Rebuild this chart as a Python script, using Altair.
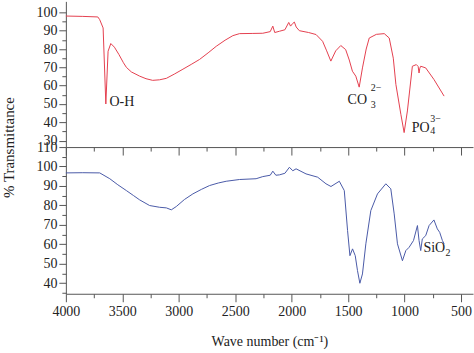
import altair as alt
import pandas as pd

# ---------------- data ----------------
red_wn = [4000, 3850, 3717, 3700, 3670, 3646, 3626, 3602, 3570, 3530, 3490, 3464, 3420, 3346,
          3290, 3231, 3170, 3110, 3040, 2963, 2890, 2816, 2740, 2668, 2590, 2521, 2462, 2350,
          2256, 2190, 2167, 2150, 2108, 2060, 2026, 2010, 1990, 1976, 1960, 1932, 1850, 1784,
          1726, 1690, 1653, 1610, 1565, 1522, 1490, 1462, 1432, 1402, 1373, 1340, 1313, 1250,
          1180, 1136, 1100, 1077, 1033, 1004, 975, 931, 896, 880, 872, 865, 857, 813, 740, 650]
red_t = [98.0, 97.8, 97.5, 96.0, 91.5, 50.0, 78.8, 83.0, 81.0, 77.0, 72.5, 70.0, 67.5, 65.2,
         63.8, 62.9, 63.2, 64.0, 66.3, 69.0, 71.6, 74.3, 77.9, 81.5, 84.8, 87.3, 88.4, 88.5,
         88.6, 89.5, 92.5, 89.0, 89.7, 90.5, 94.5, 92.5, 94.0, 94.7, 92.0, 90.0, 89.0, 87.9,
         84.2, 79.0, 73.4, 79.0, 81.9, 79.7, 74.0, 67.9, 65.2, 59.2, 69.7, 80.0, 86.0, 88.0,
         88.4, 86.0, 75.0, 60.7, 44.4, 34.4, 46.2, 70.6, 71.5, 70.5, 66.9, 69.5, 70.6, 69.7,
         63.4, 54.3]

blue_wn = [4000, 3850, 3700, 3611, 3540, 3464, 3400, 3346, 3258, 3169, 3110, 3066, 3022, 2950,
           2875, 2800, 2727, 2650, 2580, 2462, 2315, 2256, 2190, 2167, 2140, 2108, 2060, 2020,
           1990, 1961, 1873, 1770, 1696, 1652, 1578, 1534, 1505, 1484, 1461, 1437, 1417, 1396,
           1373, 1343, 1299, 1240, 1166, 1122, 1092, 1063, 1019, 989, 960, 921, 886, 872, 857,
           843, 813, 783, 740, 710, 689, 665, 650]
blue_t = [96.7, 96.8, 96.7, 93.7, 90.6, 87.6, 85.0, 82.8, 79.9, 79.0, 78.7, 77.7, 79.4, 83.0,
          85.9, 88.2, 90.2, 91.5, 92.4, 93.3, 93.7, 94.8, 95.5, 97.6, 95.5, 95.7, 96.5, 99.6,
          97.8, 98.8, 96.2, 94.5, 91.1, 89.7, 92.4, 87.6, 67.0, 54.1, 57.6, 54.1, 46.4, 39.9,
          44.7, 60.2, 77.3, 85.9, 91.1, 88.5, 75.6, 60.2, 51.5, 56.7, 58.4, 61.9, 69.6, 61.9,
          56.7, 62.7, 64.4, 69.6, 72.5, 67.9, 66.1, 61.9, 60.2]

x_ticks = list(range(4000, 499, -250))
top_y_ticks = list(range(30, 101, 5))
bot_y_ticks = list(range(35, 111, 5))

# annotation pieces (main text, subscripts, superscripts)
top_main_txt = ["O-H", "CO", "PO"]
top_main_x = [3614, 1505, 936]
top_main_y = [51.1, 52.2, 37.1]
top_sub_txt = ["3", "4"]
top_sub_x = [1300, 772]
top_sub_y = [49.5, 35.0]
top_sup_txt = ["2\u2212", "3\u2212"]
top_sup_x = [1300, 772]
top_sup_y = [58.5, 41.8]

bot_main_txt = ["SiO"]
bot_main_x = [833]
bot_main_y = [58.1]
bot_sub_txt = ["2"]
bot_sub_x = [638]
bot_sub_y = [55.7]

FONT = "Liberation Serif"
X_DOMAIN = [394, 4000]
AX = "#555555"
TXT = "#222222"

red_df = pd.DataFrame({"wn": red_wn, "t": red_t})
blue_df = pd.DataFrame({"wn": blue_wn, "t": blue_t})


def x_axis(labels, title):
    kw = dict(values=x_ticks, labels=labels, grid=False, format="d",
              labelExpr="datum.value % 500 === 0 ? datum.label : ''",
              tickSize={"condition": {"test": "datum.value % 500 === 0", "value": 8}, "value": 4},
              domainColor=AX, tickColor=AX, labelFont=FONT, labelFontSize=14,
              labelColor=TXT, labelPadding=3, labelFlush=False, labelOverlap=False,
              titleFont=FONT, titleFontSize=14, titleFontWeight="normal", titleColor=TXT,
              titlePadding=16)
    kw["title"] = title
    return alt.Axis(**kw)


def y_axis(ticks, title=None, **extra):
    kw = dict(values=ticks, grid=False,
              labelExpr="datum.value % 10 === 0 ? datum.label : ''",
              tickSize={"condition": {"test": "datum.value % 10 === 0", "value": 7}, "value": 4},
              domainColor=AX, tickColor=AX, labelFont=FONT, labelFontSize=14,
              labelColor=TXT, labelPadding=2, labelOverlap=False)
    kw["title"] = title
    kw.update(extra)
    return alt.Axis(**kw)


def text_layer(df, size, xe, ye):
    return alt.Chart(df).mark_text(font=FONT, fontSize=size, align="left",
                                   baseline="middle", color=TXT).encode(
        x=xe, y=ye, text="txt:N")


# top panel
xs_top = alt.X("wn:Q", scale=alt.Scale(domain=X_DOMAIN, reverse=True, nice=False, zero=False),
               axis=x_axis(False, None))
ys_top = alt.Y("t:Q", scale=alt.Scale(domain=[26.5, 106], nice=False, zero=False),
               axis=y_axis(top_y_ticks, "% Transmittance", titleX=-57, titleY=146,
                           titleAlign="center", titleBaseline="middle", titleFont=FONT,
                           titleFontSize=15, titleFontWeight="normal", titleColor=TXT))
top_line = alt.Chart(red_df).mark_line(color="#e4404f", strokeWidth=1).encode(x=xs_top, y=ys_top)
top_main = text_layer(pd.DataFrame({"wn": top_main_x, "t": top_main_y, "txt": top_main_txt}), 14, xs_top, ys_top)
top_sub = text_layer(pd.DataFrame({"wn": top_sub_x, "t": top_sub_y, "txt": top_sub_txt}), 10, xs_top, ys_top)
top_sup = text_layer(pd.DataFrame({"wn": top_sup_x, "t": top_sup_y, "txt": top_sup_txt}), 10, xs_top, ys_top)
top = alt.layer(top_line, top_main, top_sub, top_sup).properties(width=408, height=146)

# bottom panel
xs_bot = alt.X("wn:Q", scale=alt.Scale(domain=X_DOMAIN, reverse=True, nice=False, zero=False),
               axis=x_axis(True, "Wave number (cm\u207b\u00b9)"))
ys_bot = alt.Y("t:Q", scale=alt.Scale(domain=[34.5, 110], nice=False, zero=False),
               axis=y_axis(bot_y_ticks, None))
bot_line = alt.Chart(blue_df).mark_line(color="#4a5aa8", strokeWidth=1).encode(x=xs_bot, y=ys_bot)
bot_main = text_layer(pd.DataFrame({"wn": bot_main_x, "t": bot_main_y, "txt": bot_main_txt}), 14, xs_bot, ys_bot)
bot_sub = text_layer(pd.DataFrame({"wn": bot_sub_x, "t": bot_sub_y, "txt": bot_sub_txt}), 10, xs_bot, ys_bot)
bottom = alt.layer(bot_line, bot_main, bot_sub).properties(width=408, height=147)

chart = alt.vconcat(top, bottom, spacing=0, bounds="flush").resolve_scale(
    x="independent", y="independent"
).resolve_axis(x="independent", y="independent").properties(
    padding={"left": 1, "top": 0, "right": 0, "bottom": 5},
    background="white",
).configure_view(stroke="transparent")

chart.save("out.html", embed_options={"renderer": "svg", "actions": False})
